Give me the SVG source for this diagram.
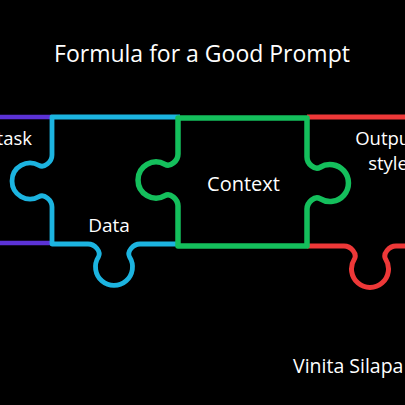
<svg xmlns="http://www.w3.org/2000/svg" width="405" height="405" viewBox="0 0 405 405">
<style>
.piece{fill:none;stroke-linejoin:round;stroke-linecap:butt}
.t{font-family:"Open Sans","Noto Sans","Liberation Sans",sans-serif;fill:#ffffff}
</style>
<rect width="405" height="405" fill="#000000"/>
<g id="title"><text class="t" x="202" y="62" font-size="23" text-anchor="middle">Formula for a Good Prompt</text></g>
<g id="node-task">
<path class="piece" stroke="#5b32d6" stroke-width="4.5" d="M-5 117 H52 M-5 243 H52"/>
<text class="t" x="32" y="145" font-size="18.5" text-anchor="end">task</text>
</g>
<g id="node-data">
<path class="piece" stroke="#1cb4e0" stroke-width="4.8" d="M180 117 H52 V155 C52 162 44.2 168.4 39 165.4 A18 18 0 1 0 39 196.6 C44.2 193.6 52 200 52 207 V244 H88 C95 244 101.4 251.8 98.4 257 A18.5 18.5 0 1 0 129.6 257 C126.6 251.8 133 244 140 244 H180"/>
<text class="t" x="109" y="232" font-size="19" text-anchor="middle">Data</text>
</g>
<g id="node-output">
<path class="piece" stroke="#ee3838" stroke-width="5" d="M307 117 H410 M307 246 H344 C351 246 357.4 253.8 354.4 259 A18.5 18.5 0 1 0 385.6 259 C382.6 253.8 389 246 396 246 H410"/>
<text class="t" x="386" y="145" font-size="18.5" text-anchor="middle">Output</text>
<text class="t" x="388" y="170" font-size="18.5" text-anchor="middle">style</text>
</g>
<g id="node-context">
<path class="piece" stroke="#14bf5c" stroke-width="5.5" d="M178 118 H307 V157 C307 164 314.8 170.4 320 167.4 A18.5 18.5 0 1 1 320 198.6 C314.8 195.6 307 202 307 209 V246 H178 V206 C178 199 170.2 192.6 165 195.6 A18 18 0 1 1 165 164.4 C170.2 167.4 178 161 178 154 Z"/>
<text class="t" x="243.5" y="190.5" font-size="20" text-anchor="middle">Context</text>
</g>
<g id="author"><text class="t" x="293" y="372.5" font-size="19.5">Vinita Silapa</text></g>
</svg>
